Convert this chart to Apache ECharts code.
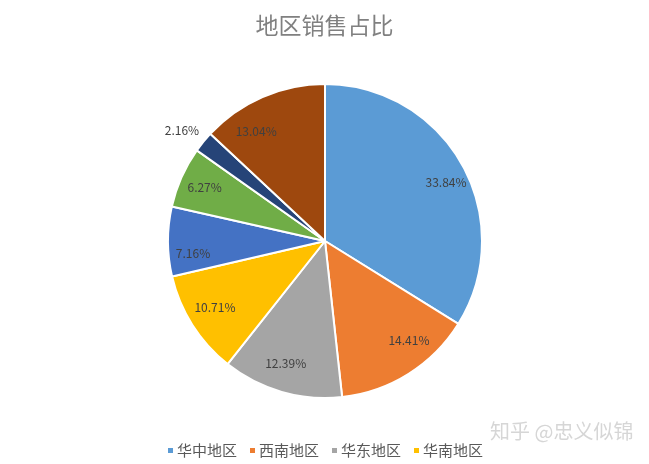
<!DOCTYPE html>
<html><head><meta charset="utf-8">
<script src="https://cdn.jsdelivr.net/npm/echarts@6/dist/echarts.min.js"></script>
<style>html,body{margin:0;padding:0;background:#fff}#c{width:649px;height:464px}</style>
</head><body><div id="c"></div>
<script>
const categories = ['华中地区','西南地区','华东地区','华南地区','华北地区','东北地区','西北地区','其他地区'];
const values = [33.84, 14.41, 12.39, 10.71, 7.16, 6.27, 2.16, 13.04];
const legendNames = ['华中地区','西南地区','华东地区','华南地区'];
const colors = ['#5B9BD5','#ED7D31','#A5A5A5','#FFC000','#4472C4','#70AD47','#264478','#9E480E'];
const titleText = '地区销售占比';
const watermark = '知乎 @忠义似锦';

const font = '"Noto Sans CJK SC", "Noto Sans", sans-serif';
// small label nudges to mimic the spreadsheet's label placement (style only)
const labelNudge = [[3,7],[12,-15],[-2,-7],[4,-6],[3,12],[3,1],[4,-9],[-15,14]];

const mainData = categories.map((n,i)=>({name:n, value:values[i]}));
const labelData = categories.map((n,i)=>({
  name:n, value:values[i],
  label: i===6 ? {show:false} : {show:true, offset:labelNudge[i]}
}));
mainData[6].label = {show:true, position:'outside', distance:6, offset:labelNudge[6]};
mainData[6].labelLine = {show:false, length:4, length2:0};

const chart = echarts.init(document.getElementById('c'));
chart.setOption({
  animation:false,
  color: colors,
  title:{text:titleText, left:'center', top:9,
    textStyle:{fontFamily:font, fontSize:23, fontWeight:'normal', color:'#808080'}},
  legend:{data:legendNames, bottom:1, left:'center', itemWidth:7, itemHeight:7, itemGap:11,
    icon:'rect', textStyle:{fontFamily:font, fontSize:15, color:'#595959', padding:[0,0,0,-2]}},
  graphic:[{type:'text', left:490, top:421, style:{text:watermark, font:'20px '+font, fill:'#d6d6d6'}}],
  series:[
    {type:'pie', center:[325,241], radius:[0,157], startAngle:90, clockwise:true,
     avoidLabelOverlap:false, silent:true,
     itemStyle:{borderColor:'#fff', borderWidth:2},
     label:{show:false, formatter: p=>p.value.toFixed(2)+'%', fontFamily:font, fontSize:12, color:'#404040'},
     labelLine:{show:false},
     data: mainData},
    {type:'pie', center:[325,241], radius:[108,156], startAngle:90, clockwise:true,
     avoidLabelOverlap:false, silent:true,
     itemStyle:{color:'rgba(0,0,0,0)', borderWidth:0},
     label:{show:true, position:'inside', formatter: p=>p.value.toFixed(2)+'%', fontFamily:font, fontSize:12, color:'#404040'},
     labelLine:{show:false},
     data: labelData}
  ]
});
</script></body></html>
